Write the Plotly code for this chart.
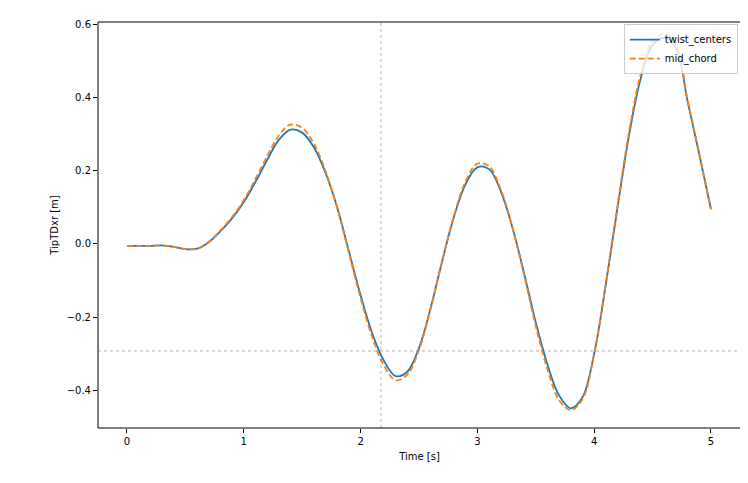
import plotly.graph_objects as go

time = [round(i*0.1, 1) for i in range(51)]
twist_centers = [-0.005,-0.005,-0.005,-0.004,-0.008,-0.014,-0.013,0.005,0.035,0.07,
 0.115,0.17,0.23,0.285,0.313,0.305,0.265,0.195,0.1,-0.02,
 -0.14,-0.245,-0.32,-0.362,-0.35,-0.285,-0.175,-0.045,0.075,0.165,
 0.21,0.205,0.145,0.045,-0.08,-0.215,-0.33,-0.415,-0.45,-0.42,
 -0.3,-0.11,0.1,0.3,0.455,0.545,0.565,0.537,0.39,0.245,0.095]
mid_chord = [-0.005,-0.005,-0.005,-0.004,-0.008,-0.014,-0.013,0.006,0.037,0.074,
 0.12,0.178,0.24,0.297,0.327,0.318,0.275,0.2,0.1,-0.025,
 -0.148,-0.255,-0.333,-0.373,-0.358,-0.29,-0.178,-0.045,0.078,0.172,
 0.22,0.213,0.15,0.045,-0.085,-0.225,-0.343,-0.428,-0.455,-0.425,
 -0.302,-0.108,0.106,0.31,0.467,0.557,0.575,0.545,0.395,0.247,0.095]
vline_x = 2.175
hline_y = -0.293

fig = go.Figure()
fig.add_trace(go.Scatter(x=time, y=twist_centers, mode="lines", name="twist_centers",
                         line=dict(color="#1f77b4", width=1.8, shape="spline")))
fig.add_trace(go.Scatter(x=time, y=mid_chord, mode="lines", name="mid_chord",
                         line=dict(color="#ff7f0e", width=1.8, dash="6px,3px", shape="spline")))
fig.add_vline(x=vline_x, line=dict(color="gray", width=0.6, dash="dot"))
fig.add_hline(y=hline_y, line=dict(color="gray", width=0.6, dash="dot"))
fig.add_shape(type="rect", xref="paper", yref="paper", x0=0, y0=0, x1=1, y1=1,
              line=dict(color="black", width=1), layer="above")
ax = dict(showgrid=False, zeroline=False, showline=False, automargin=False,
          ticks="outside", ticklen=4, tickcolor="black")
fig.update_layout(
    width=748, height=483, template="none", plot_bgcolor="white", paper_bgcolor="white",
    margin=dict(l=90, r=15, t=14, b=63, pad=0),
    font=dict(family="DejaVu Sans", size=10, color="black"),
    xaxis=dict(**ax, range=[-0.248, 5.257], tickvals=[0,1,2,3,4,5],
               title=dict(text="Time [s]", standoff=6, font=dict(size=10))),
    yaxis=dict(**ax, range=[-0.504, 0.608], tickvals=[-0.4,-0.2,0,0.2,0.4,0.6],
               tickformat=".1f", title=dict(text="TipTDxr [m]", standoff=6, font=dict(size=10))),
    legend=dict(x=0.995, y=0.995, xanchor="right", yanchor="top", bgcolor="rgba(255,255,255,0.8)",
                bordercolor="#cccccc", borderwidth=1, font=dict(size=10),
                tracegroupgap=0, itemwidth=30),
)
fig.write_html("out.html")
